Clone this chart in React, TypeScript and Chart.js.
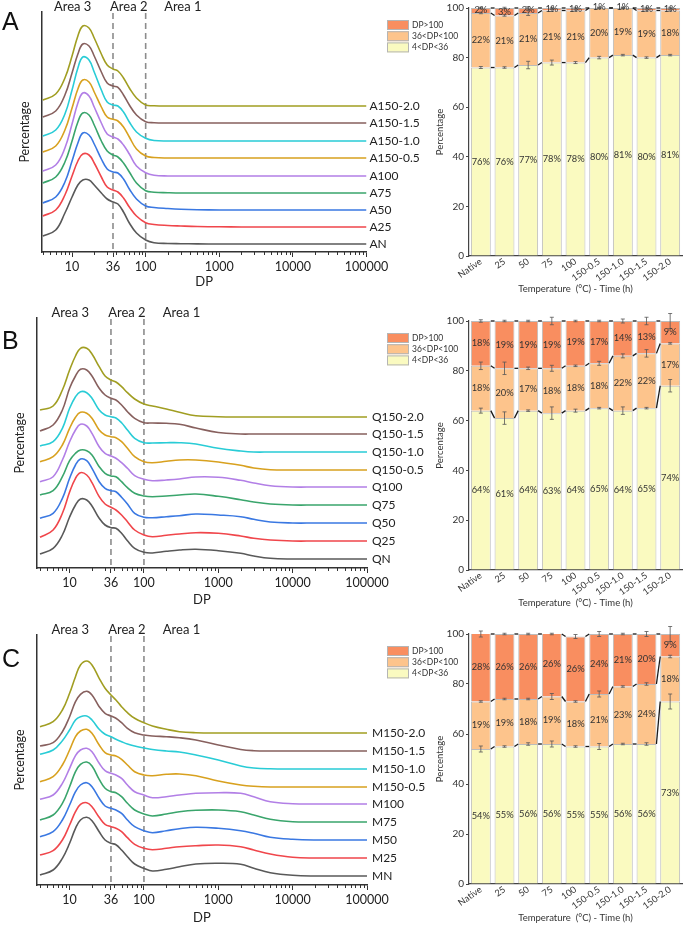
import React, { useEffect, useRef } from 'react';
import { Chart, registerables } from 'chart.js';

Chart.register(...registerables);
Chart.defaults.font.family = 'Lato, "Open Sans", sans-serif';
Chart.defaults.color = '#222';

// ---------------- DP distributions (log DP axis, curves offset vertically) ----------------
const DP = [4, 6, 8, 10, 12, 14, 17, 20, 25, 30, 36, 42, 50, 60, 75, 100, 130, 200, 300, 500, 1000, 2000, 3000, 5000, 10000, 20000, 50000, 100000];
const MAJOR_DP = [10, 36, 100, 1000, 10000, 100000];
const AREA_BOUNDS = [36, 100];
const AREA_NAMES = ['Area 3', 'Area 2', 'Area 1'];

const CURVE_COLORS = ['#595959', '#f0464b', '#3a78e2', '#3aa56c', '#b27fe6', '#d8a11f', '#29ccd6', '#87605e', '#a19e22'];

// Panel A
const A_NAMES = ['AN', 'A25', 'A50', 'A75', 'A100', 'A150-0.5', 'A150-1.0', 'A150-1.5', 'A150-2.0'];
const A_OFFSETS = [8, 25, 42, 59, 76, 94, 111, 129, 146];
const A_N = [8, 14, 31, 47, 59, 64, 64, 59, 51, 45, 42, 40, 32, 21, 11, 4, 1.3, 0.5, 0.3, 0.1, 0, 0, 0, 0, 0, 0, 0, 0];
const A_25 = [11, 17, 32, 51, 66, 73, 72, 64, 50, 40, 37, 35, 29, 20, 11, 4.3, 2.5, 1.5, 1, 0.5, 0.2, 0, 0, 0, 0, 0, 0, 0];
const A_50 = [7, 13, 28, 49, 67, 77, 75, 66, 51, 41, 38, 37, 31, 21, 11, 4, 2.5, 1.5, 0.8, 0.3, 0, 0, 0, 0, 0, 0, 0, 0];
const A_75 = [10, 16, 31, 52, 71, 80, 78, 68, 52, 42, 38, 36, 30, 21, 10, 2.3, 0.8, 0.3, 0, 0, 0, 0, 0, 0, 0, 0, 0, 0];
const A_100 = [5, 11, 28, 52, 73, 83, 80, 69, 53, 42, 39, 37, 31, 22, 10, 3.3, 0.8, 0, 0, 0, 0, 0, 0, 0, 0, 0, 0, 0];
const A_150_05 = [6, 12, 28, 50, 69, 78, 76, 66, 51, 41, 38.7, 37, 31, 21, 9, 2, 0.5, 0, 0, 0, 0, 0, 0, 0, 0, 0, 0, 0];
const A_150_10 = [5, 11, 27, 51, 73, 84, 81, 69, 51, 39, 36, 35, 29, 19, 9, 2.7, 0.5, 0, 0, 0, 0, 0, 0, 0, 0, 0, 0, 0];
const A_150_15 = [6, 12, 28, 50, 69, 79, 77, 67, 51, 40, 37, 35.7, 28, 18, 8, 1.3, 0.3, 0, 0, 0, 0, 0, 0, 0, 0, 0, 0, 0];
const A_150_20 = [6, 12, 28, 50, 70, 80, 78, 68, 52, 41, 37, 35, 28, 18, 8, 1, 0.3, 0, 0, 0, 0, 0, 0, 0, 0, 0, 0, 0];

// Panel B
const B_NAMES = ['QN', 'Q25', 'Q50', 'Q75', 'Q100', 'Q150-0.5', 'Q150-1.0', 'Q150-1.5', 'Q150-2.0'];
const B_OFFSETS = [9, 27, 45, 63, 81, 98, 116, 134, 151];
const Q_N = [5, 10.7, 24, 42, 54, 60, 59, 53, 40.7, 34, 31.3, 30.7, 25.7, 18.3, 10.7, 6.7, 6, 7.7, 9, 9.7, 8.3, 5.7, 3, 0.7, 0, 0, 0, 0];
const Q_25 = [3.7, 11, 27.7, 49, 62.7, 68.3, 66, 58.3, 44.3, 37, 33.7, 31, 26, 19.3, 11, 6, 4.3, 5.7, 7, 8.3, 7.7, 5, 2.7, 1, 0, 0, 0, 0];
const Q_50 = [4.7, 9.7, 24.7, 44.7, 58, 64, 62.3, 54.7, 41.3, 34.7, 32.3, 31.3, 25.7, 19, 9.7, 5.7, 5.3, 6.3, 7.3, 9, 8, 6.3, 3.7, 1, 0, 0, 0, 0];
const Q_75 = [10, 14.3, 28.3, 44.3, 51.7, 55, 54.3, 50, 38.3, 31.7, 29, 28.3, 23.3, 17.3, 11.7, 9, 8.3, 9, 10, 11, 8.7, 5.3, 3, 1, 0, 0, 0, 0];
const Q_100 = [5.3, 10.3, 27, 45.3, 57, 62.7, 61, 53.7, 40.3, 33.7, 31, 28.7, 24.3, 18.7, 11.3, 7.7, 6.3, 7, 8, 10, 9.7, 6.7, 4, 1.3, 0, 0, 0, 0];
const Q_150_05 = [8.3, 13.3, 25, 41.7, 52.7, 57.7, 56.7, 51.7, 40, 35, 33.3, 32.3, 28.3, 21.7, 13.3, 8.3, 7.3, 8.7, 10, 10, 8, 4.7, 2, 0.3, 0, 0, 0, 0];
const Q_150_10 = [6, 10.3, 23.7, 43.7, 55.3, 60.3, 59.3, 53.7, 42, 37, 35.3, 34, 29.3, 22, 13.7, 9.3, 9, 9.3, 9.3, 8, 3.7, 1, 0, 0, 0, 0, 0, 0];
const Q_150_15 = [3, 9, 24, 45.7, 58, 64.7, 64, 58, 45.7, 39, 35.7, 34, 29, 22.3, 15.7, 11.3, 11, 10.7, 9.7, 6, 1.5, 0, 0, 0, 0, 0, 0, 0];
const Q_150_20 = [7, 11, 27, 47, 61, 68.7, 68.7, 63, 50.3, 41, 37, 35, 30.3, 24.3, 18, 13, 11, 8, 4.7, 1.3, 0.3, 0, 0, 0, 0, 0, 0, 0];

// Panel C
const C_NAMES = ['MN', 'M25', 'M50', 'M75', 'M100', 'M150-0.5', 'M150-1.0', 'M150-1.5', 'M150-2.0'];
const C_OFFSETS = [9, 27, 45, 63, 81, 98, 116, 134, 152];
const M_N = [1, 6, 17.7, 32.7, 47.7, 56, 58.7, 55.3, 44.3, 36, 32.7, 31.3, 26, 19.3, 12, 7.7, 5, 6.7, 9.3, 12, 12.7, 11.7, 7.7, 3.3, 0.7, 0, 0, 0];
const M_25 = [3, 7.3, 18, 33, 46.3, 53.7, 55.3, 51.3, 40.7, 33.7, 31.3, 29.7, 26.3, 20.3, 13.7, 9.7, 8.3, 9.7, 11.3, 12.3, 13, 11.3, 8, 4, 0.7, 0, 0, 0];
const M_50 = [3.3, 8.3, 20, 35, 48.3, 55, 57.3, 53.3, 41.7, 34, 31.7, 30, 26.7, 20, 13.3, 9.3, 7.3, 9.3, 11.3, 12.7, 11.7, 9.3, 6.7, 2.7, 0.7, 0, 0, 0];
const M_75 = [2, 7, 18.7, 35.3, 50.3, 57.7, 60, 56, 42.7, 33.7, 30.3, 29.3, 25.3, 18.7, 12, 8, 6, 8, 10.3, 11.7, 12, 10.3, 7, 2.7, 0.3, 0, 0, 0];
const M_100 = [4.7, 9, 20.7, 35.7, 48.3, 54, 55.7, 52.3, 40.7, 33.3, 30.7, 29, 25.7, 19, 12.3, 9, 6.3, 7.3, 9, 10.7, 11.3, 10.7, 7.3, 2.3, 0.3, 0, 0, 0];
const M_150_05 = [5.3, 10.3, 22, 37, 50.3, 56, 57.7, 53.7, 42, 34.3, 32, 31, 27.7, 22, 15.3, 12, 11.3, 12.7, 13, 11.3, 6, 2, 0.7, 0, 0, 0, 0, 0];
const M_150_10 = [14.7, 19, 28.3, 39, 49, 52.3, 53, 49, 39.7, 34.7, 32.3, 29.7, 27.3, 25, 23, 21, 19.5, 18, 17, 14, 9, 3, 1, 0.2, 0, 0, 0, 0];
const M_150_15 = [5, 8.3, 19.3, 34.3, 49.3, 56.7, 59.7, 56, 44.3, 37.7, 35, 32.7, 28.3, 22.7, 18.3, 16, 15, 14.3, 13.3, 11, 6, 1.5, 0.3, 0, 0, 0, 0, 0];
const M_150_20 = [6.3, 11.3, 23, 39.7, 56.3, 68, 72, 68, 54.7, 44.7, 38, 33, 26.3, 20.3, 14.7, 10.3, 7, 3.7, 1.3, 0.3, 0, 0, 0, 0, 0, 0, 0, 0];

// ---------------- stacked DP-fraction bars ----------------
const TREATMENTS = ['Native', '25', '50', '75', '100', '150-0.5', '150-1.0', '150-1.5', '150-2.0'];
const FRACTION_NAMES = ['4<DP<36', '36<DP<100', 'DP>100'];
const FRACTION_COLORS = ['#fafac0', '#fdc48c', '#f98e60'];

const A_LOW = [76, 76, 77, 78, 78, 80, 81, 80, 81];
const A_MID = [22, 21, 21, 21, 21, 20, 19, 19, 18];
const A_HIGH = [2, 3, 2, 1, 1, 1, 1, 1, 1];
const A_ERR_LOW = [0.4, 0.3, 1.5, 1, 0.4, 0.5, 0.3, 0.3, 0.3];
const A_ERR_MID = [0.3, 0.3, 1, 0.4, 0.3, 0.3, 0.3, 0.3, 0.3];
const A_ERR_HIGH = [0.3, 0.3, 0.5, 0.3, 0.3, 0.3, 0.3, 0.3, 0.3];

const B_LOW = [64, 61, 64, 63, 64, 65, 64, 65, 74];
const B_MID = [18, 20, 17, 18, 18, 18, 22, 22, 17];
const B_HIGH = [18, 19, 19, 19, 19, 17, 14, 13, 9];
const B_ERR_LOW = [1, 2.5, 0.3, 2.5, 0.6, 0.3, 1.5, 0.3, 2.5];
const B_ERR_MID = [1.5, 2.5, 0.5, 1.2, 0.3, 0.8, 0.8, 1.5, 0.3];
const B_ERR_HIGH = [0.5, 0.3, 0.3, 1.5, 0.3, 0.3, 0.8, 1.5, 3];

const C_LOW = [54, 55, 56, 56, 55, 55, 56, 56, 73];
const C_MID = [19, 19, 18, 19, 18, 21, 23, 24, 18];
const C_HIGH = [28, 26, 26, 26, 26, 24, 21, 20, 9];
const C_ERR_LOW = [1.2, 0.3, 0.5, 1.2, 0.3, 1.2, 0.3, 0.5, 3];
const C_ERR_MID = [0.3, 0.3, 0.3, 1.2, 0.3, 1.2, 0.3, 0.5, 0.5];
const C_ERR_HIGH = [1.2, 0.3, 0.3, 0.3, 0.8, 1, 0.3, 1, 3];

// ---------------- chart builders ----------------
const LINE_W = 430;
const BAR_W = 305;

type LinePanel = {
  names: string[]; curves: number[][]; offsets: number[];
  height: number; plotTop: number; plotBottom: number; plotLeft: number; plotRight: number;
  xMin: number; yMax: number; yTitlePad: number; xTitlePad: number; labelGap: number;
};

function buildLine(p: LinePanel): any {
  const minorTicks: number[] = [];
  for (let dec = 1; dec <= 10000; dec *= 10) {
    for (let k = 2; k <= 9; k++) {
      const v = k * dec;
      if (v >= p.xMin && v <= 100000) minorTicks.push(v);
    }
  }
  const areaDP = [10.2, 59, 320];
  const overlay = {
    id: 'dpOverlay',
    beforeDatasetsDraw(chart: any) {
      const { ctx, chartArea, scales } = chart;
      ctx.save();
      ctx.strokeStyle = '#8c8c8c';
      ctx.lineWidth = 1.6;
      ctx.setLineDash([6, 4]);
      for (const b of AREA_BOUNDS) {
        const px = scales.x.getPixelForValue(b);
        ctx.beginPath();
        ctx.moveTo(px, chartArea.top + 1);
        ctx.lineTo(px, chartArea.bottom);
        ctx.stroke();
      }
      ctx.restore();
    },
    afterDraw(chart: any) {
      const { ctx, chartArea, scales } = chart;
      ctx.save();
      ctx.strokeStyle = '#333';
      ctx.lineWidth = 1;
      for (const v of minorTicks) {
        const px = Math.round(scales.x.getPixelForValue(v)) + 0.5;
        ctx.beginPath();
        ctx.moveTo(px, chartArea.bottom);
        ctx.lineTo(px, chartArea.bottom + 3);
        ctx.stroke();
      }
      ctx.fillStyle = '#222';
      ctx.font = '13px Lato';
      ctx.textAlign = 'center';
      ctx.textBaseline = 'middle';
      AREA_NAMES.forEach((t, i) => ctx.fillText(t, scales.x.getPixelForValue(areaDP[i]), chartArea.top - 5.5));
      ctx.font = '12px Lato';
      ctx.textAlign = 'left';
      p.names.forEach((n, i) => ctx.fillText(n, chartArea.right + p.labelGap, scales.y.getPixelForValue(p.offsets[i])));
      ctx.restore();
    },
  };
  return {
    type: 'line',
    data: {
      datasets: p.curves.map((h, i) => ({
        label: p.names[i],
        data: DP.map((x, k) => ({ x, y: p.offsets[i] + h[k] })),
        borderColor: CURVE_COLORS[i],
        borderWidth: 1.6,
        pointRadius: 0,
        fill: false,
        tension: 0.4,
      })),
    },
    options: {
      responsive: false,
      animation: false,
      layout: { padding: { left: 0, top: p.plotTop, right: LINE_W - p.plotRight, bottom: 0 } },
      plugins: { legend: { display: false }, tooltip: { enabled: false } },
      scales: {
        x: {
          type: 'logarithmic',
          min: p.xMin,
          max: 100000,
          afterBuildTicks: (s: any) => { s.ticks = MAJOR_DP.map((v) => ({ value: v })); },
          ticks: { callback: (v: any) => String(v), autoSkip: false, maxRotation: 0, minRotation: 0, font: { size: 12.5 }, color: '#222', padding: 2 },
          grid: { drawOnChartArea: false, drawTicks: true, tickLength: 5, color: '#333', lineWidth: 1 },
          border: { display: true, color: '#333', width: 1.5 },
          title: { display: true, text: 'DP', font: { size: 13 }, color: '#222', padding: { top: 0, bottom: p.xTitlePad } },
          afterFit: (s: any) => { s.height = p.height - p.plotBottom; },
        },
        y: {
          min: 0,
          max: p.yMax,
          ticks: { display: false },
          grid: { display: false },
          border: { display: true, color: '#333', width: 1.5 },
          title: { display: true, text: 'Percentage', font: { size: 12.5 }, color: '#222', padding: { top: p.yTitlePad, bottom: 0 } },
          afterFit: (s: any) => { s.width = p.plotLeft; },
        },
      },
    },
    plugins: [overlay],
  };
}

type BarPanel = {
  low: number[]; mid: number[]; high: number[];
  errLow: number[]; errMid: number[]; errHigh: number[];
  height: number; plotTop: number; plotBottom: number; xTitlePad: number;
};

function buildBar(p: BarPanel): any {
  const series = [p.low, p.mid, p.high];
  const errs = [p.errLow, p.errMid, p.errHigh];
  const decor = {
    id: 'barDecor',
    afterDatasetsDraw(chart: any) {
      const { ctx, chartArea, scales } = chart;
      const top = chartArea.top;
      const perUnit = (scales.y.getPixelForValue(0) - scales.y.getPixelForValue(100)) / 100;
      ctx.save();
      // lines joining the segment boundaries of neighbouring bars
      ctx.strokeStyle = '#1a1a1a';
      ctx.lineWidth = 1.3;
      series.forEach((_, d) => {
        const bars = chart.getDatasetMeta(d).data;
        for (let i = 0; i < bars.length - 1; i++) {
          const a = bars[i];
          const b = bars[i + 1];
          ctx.beginPath();
          ctx.moveTo(a.x + a.width / 2, Math.max(a.y, top));
          ctx.lineTo(b.x - b.width / 2, Math.max(b.y, top));
          ctx.stroke();
        }
      });
      // error bars at the top of each segment
      ctx.strokeStyle = '#555';
      ctx.lineWidth = 0.8;
      series.forEach((_, d) => {
        const bars = chart.getDatasetMeta(d).data;
        bars.forEach((el: any, i: number) => {
          const e = errs[d][i] * perUnit;
          const y = Math.max(el.y, top);
          ctx.beginPath();
          ctx.moveTo(el.x, y - e); ctx.lineTo(el.x, y + e);
          ctx.moveTo(el.x - 2, y - e); ctx.lineTo(el.x + 2, y - e);
          ctx.moveTo(el.x - 2, y + e); ctx.lineTo(el.x + 2, y + e);
          ctx.stroke();
        });
      });
      // percentage labels
      ctx.fillStyle = '#333';
      ctx.font = '9.3px Lato';
      ctx.textAlign = 'center';
      ctx.textBaseline = 'middle';
      series.forEach((vals, d) => {
        const bars = chart.getDatasetMeta(d).data;
        bars.forEach((el: any, i: number) => {
          ctx.fillText(vals[i] + '%', el.x, (el.y + el.base) / 2);
        });
      });
      // legend, highest fraction first
      const lx = 7;
      const ly = top + 12;
      ctx.font = '8.5px Lato';
      ctx.textAlign = 'left';
      [2, 1, 0].forEach((d, k) => {
        const y = ly + k * 11.2;
        ctx.fillStyle = FRACTION_COLORS[d];
        ctx.fillRect(lx, y, 22, 10);
        ctx.strokeStyle = '#b5b5b5';
        ctx.lineWidth = 1;
        ctx.strokeRect(lx + 0.5, y + 0.5, 21, 9);
        ctx.fillStyle = '#333';
        ctx.fillText(FRACTION_NAMES[d], lx + 25, y + 5);
      });
      ctx.restore();
    },
  };
  return {
    type: 'bar',
    data: {
      labels: TREATMENTS,
      datasets: series.map((vals, d) => ({
        label: FRACTION_NAMES[d],
        data: vals,
        backgroundColor: FRACTION_COLORS[d],
        borderColor: '#bcbcbc',
        borderWidth: 1,
        barPercentage: 0.84,
        categoryPercentage: 1,
      })),
    },
    options: {
      responsive: false,
      animation: false,
      layout: { padding: { left: 54, top: p.plotTop, right: 3, bottom: 0 } },
      plugins: { legend: { display: false }, tooltip: { enabled: false } },
      scales: {
        x: {
          stacked: true,
          grid: { display: false, drawTicks: false },
          border: { display: true, color: '#444', width: 1.2 },
          ticks: { autoSkip: false, minRotation: 35, maxRotation: 35, font: { size: 9.2 }, color: '#333', padding: 0 },
          title: { display: true, text: 'Temperature  (°C) - Time (h)', font: { size: 9.5 }, color: '#333', padding: { top: 0, bottom: p.xTitlePad } },
          afterFit: (s: any) => { s.height = p.height - p.plotBottom; },
        },
        y: {
          stacked: true,
          min: 0,
          max: 100,
          ticks: { stepSize: 20, font: { size: 10 }, color: '#333', padding: 2 },
          grid: { drawOnChartArea: false, drawTicks: true, tickLength: 3, color: '#444' },
          border: { display: true, color: '#444', width: 1.2 },
          title: { display: true, text: 'Percentage', font: { size: 9.5 }, color: '#333', padding: { top: 0, bottom: 0 } },
          afterFit: (s: any) => { s.width = 35; },
        },
      },
    },
    plugins: [decor],
  };
}

function ChartCanvas({ left, top, width, height, config }: { left: number; top: number; width: number; height: number; config: () => any }) {
  const ref = useRef<HTMLCanvasElement>(null);
  useEffect(() => {
    const chart = new Chart(ref.current as HTMLCanvasElement, config());
    return () => chart.destroy();
  }, []);
  return <canvas ref={ref} width={width} height={height} style={{ position: 'absolute', left, top, width, height }} />;
}

const lineA: LinePanel = {
  names: A_NAMES, offsets: A_OFFSETS,
  curves: [A_N, A_25, A_50, A_75, A_100, A_150_05, A_150_10, A_150_15, A_150_20],
  height: 292, plotTop: 12, plotBottom: 252, plotLeft: 41.7, plotRight: 366.5,
  xMin: 3.87, yMax: 240, yTitlePad: 17.5, xTitlePad: 2, labelGap: 3,
};
const lineB: LinePanel = {
  names: B_NAMES, offsets: B_OFFSETS,
  curves: [Q_N, Q_25, Q_50, Q_75, Q_100, Q_150_05, Q_150_10, Q_150_15, Q_150_20],
  height: 310, plotTop: 18, plotBottom: 268, plotLeft: 36.7, plotRight: 367,
  xMin: 3.61, yMax: 250, yTitlePad: 12.5, xTitlePad: 2, labelGap: 5,
};
const lineC: LinePanel = {
  names: C_NAMES, offsets: C_OFFSETS,
  curves: [M_N, M_25, M_50, M_75, M_100, M_150_05, M_150_10, M_150_15, M_150_20],
  height: 306, plotTop: 15, plotBottom: 265, plotLeft: 36.7, plotRight: 367,
  xMin: 3.61, yMax: 250, yTitlePad: 12.5, xTitlePad: 0, labelGap: 5,
};

const barA: BarPanel = { low: A_LOW, mid: A_MID, high: A_HIGH, errLow: A_ERR_LOW, errMid: A_ERR_MID, errHigh: A_ERR_HIGH, height: 300, plotTop: 6, plotBottom: 256, xTitlePad: 5 };
const barB: BarPanel = { low: B_LOW, mid: B_MID, high: B_HIGH, errLow: B_ERR_LOW, errMid: B_ERR_MID, errHigh: B_ERR_HIGH, height: 312, plotTop: 21, plotBottom: 270, xTitlePad: 3 };
const barC: BarPanel = { low: C_LOW, mid: C_MID, high: C_HIGH, errLow: C_ERR_LOW, errMid: C_ERR_MID, errHigh: C_ERR_HIGH, height: 306, plotTop: 14, plotBottom: 264, xTitlePad: 2 };

const letterStyle = (top: number): React.CSSProperties => ({
  position: 'absolute', left: 2, top, fontFamily: '"Liberation Sans", Arial, sans-serif', fontSize: 25, lineHeight: '25px', color: '#111',
});

export default function App() {
  return (
    <div style={{ position: 'absolute', left: 0, top: 0, width: 685, height: 926, background: '#fff', overflow: 'hidden' }}>
      <ChartCanvas left={0} top={0} width={LINE_W} height={lineA.height} config={() => buildLine(lineA)} />
      <ChartCanvas left={0} top={300} width={LINE_W} height={lineB.height} config={() => buildLine(lineB)} />
      <ChartCanvas left={0} top={620} width={LINE_W} height={lineC.height} config={() => buildLine(lineC)} />
      <ChartCanvas left={380} top={0} width={BAR_W} height={barA.height} config={() => buildBar(barA)} />
      <ChartCanvas left={380} top={300} width={BAR_W} height={barB.height} config={() => buildBar(barB)} />
      <ChartCanvas left={380} top={620} width={BAR_W} height={barC.height} config={() => buildBar(barC)} />
      <div style={letterStyle(9)}>A</div>
      <div style={letterStyle(328)}>B</div>
      <div style={letterStyle(646)}>C</div>
    </div>
  );
}
